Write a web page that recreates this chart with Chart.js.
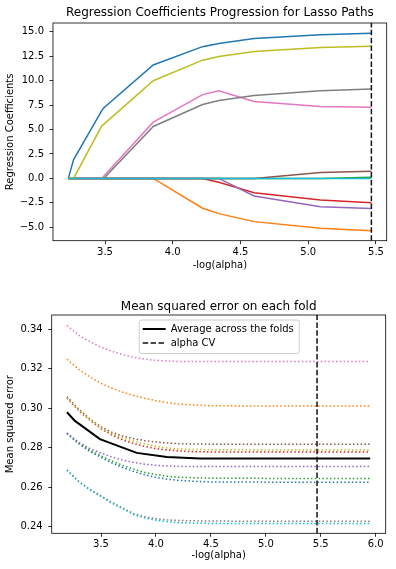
<!DOCTYPE html>
<html lang="en">
<head>
    <meta charset="UTF-8">
    <title>Lasso paths and CV error</title>

    <!-- Chart.js -->
    <script src="https://cdn.jsdelivr.net/npm/chart.js"></script>

    <style>
        body {
            margin: 0;
            background: #ffffff;
        }

        .panel {
            position: absolute;
            left: 0;
            width: 396px;
        }

        #top { top: 0; height: 285px; }
        #bottom { top: 285px; height: 284px; }
    </style>
</head>

<body>
    <div class="panel" id="top"><canvas id="pathChart" width="396" height="285"></canvas></div>
    <div class="panel" id="bottom"><canvas id="mseChart" width="396" height="284"></canvas></div>

    <script>
        // ---- lasso path (top panel) ----
        const pathAlphas = [3.229, 3.268, 3.475, 3.49, 3.856, 4.22, 4.34, 4.60, 5.09, 5.466];
        const coef0 = [0, 1.93, 6.9, 7.2, 11.6, 13.47, 13.8, 14.3, 14.68, 14.85];
        const coef1 = [0, 0, 0, 0, 0, -3.05, -3.6, -4.42, -5.1, -5.36];
        const coef2 = [0, 0, 0, 0, 0, 0, 0, 0, 0, 0.12];
        const coef3 = [0, 0, 0, 0, 0, 0, -0.4, -1.46, -2.2, -2.48];
        const coef4 = [0, 0, 0, 0, 0, 0, 0, -1.8, -2.89, -3.09];
        const coef5 = [0, 0, 0, 0, 0, 0, 0, 0, 0.61, 0.74];
        const coef6 = [0, 0, 0, 0.23, 5.75, 8.57, 8.97, 7.86, 7.35, 7.28];
        const coef7 = [0, 0, 0, 0, 5.31, 7.55, 7.96, 8.47, 8.97, 9.15];
        const coef8 = [0, 0, 5.35, 5.53, 9.99, 12.09, 12.46, 12.97, 13.38, 13.52];
        const coef9 = [0, 0, 0, 0, 0, 0, 0, 0, 0, 0];
        const coefPaths = [coef0, coef1, coef2, coef3, coef4, coef5, coef6, coef7, coef8, coef9];

        const alphaCV = 5.466;
        const pathXRange = [3.116, 5.579];
        const pathYRange = [-6.37, 15.89];
        const pathXTicks = [3.5, 4.0, 4.5, 5.0, 5.5];
        const pathYTicks = [-5, -2.5, 0, 2.5, 5, 7.5, 10, 12.5, 15];

        // ---- mse per fold (bottom panel) ----
        const foldAlphas = [3.19, 3.3, 3.4, 3.5, 3.6, 3.7, 3.8, 3.9, 4.0, 4.1, 4.2, 4.35, 4.5, 5.0, 5.5, 5.95];
        const fold0 = [0.2870, 0.2818, 0.2780, 0.2750, 0.2722, 0.2698, 0.2678, 0.2662, 0.2649, 0.2640, 0.2634, 0.2629, 0.2626, 0.2625, 0.2625, 0.2625];
        const fold1 = [0.3247, 0.3195, 0.3157, 0.3125, 0.3100, 0.3080, 0.3063, 0.3049, 0.3037, 0.3028, 0.3021, 0.3015, 0.3012, 0.3010, 0.3010, 0.3010];
        const fold2 = [0.2873, 0.2822, 0.2786, 0.2758, 0.2732, 0.2709, 0.2690, 0.2674, 0.2663, 0.2655, 0.2650, 0.2647, 0.2645, 0.2644, 0.2644, 0.2644];
        const fold3 = [0.3050, 0.2985, 0.2938, 0.2895, 0.2863, 0.2838, 0.2820, 0.2805, 0.2795, 0.2788, 0.2783, 0.2779, 0.2778, 0.2777, 0.2777, 0.2777];
        const fold4 = [0.2873, 0.2826, 0.2795, 0.2772, 0.2752, 0.2736, 0.2724, 0.2716, 0.2710, 0.2707, 0.2705, 0.2704, 0.2704, 0.2704, 0.2704, 0.2704];
        const fold5 = [0.3058, 0.2992, 0.2945, 0.2905, 0.2877, 0.2858, 0.2845, 0.2835, 0.2828, 0.2823, 0.2820, 0.2818, 0.2817, 0.2817, 0.2817, 0.2817];
        const fold6 = [0.3418, 0.3368, 0.3335, 0.3308, 0.3287, 0.3270, 0.3257, 0.3247, 0.3241, 0.3238, 0.3236, 0.3235, 0.3235, 0.3235, 0.3235, 0.3235];
        const fold7 = [0.2687, 0.2628, 0.2588, 0.2556, 0.2522, 0.2494, 0.2465, 0.2450, 0.2440, 0.2434, 0.2431, 0.2429, 0.2428, 0.2427, 0.2427, 0.2427];
        const fold8 = [0.3053, 0.2988, 0.2942, 0.2900, 0.2870, 0.2848, 0.2832, 0.2818, 0.2806, 0.2798, 0.2793, 0.2790, 0.2789, 0.2788, 0.2788, 0.2788];
        const fold9 = [0.2685, 0.2625, 0.2585, 0.2552, 0.2518, 0.2490, 0.2460, 0.2443, 0.2432, 0.2425, 0.2420, 0.2417, 0.2416, 0.2415, 0.2415, 0.2415];
        const foldMse = [fold0, fold1, fold2, fold3, fold4, fold5, fold6, fold7, fold8, fold9];

        const avgAlphas = [3.19, 3.263, 3.49, 3.825, 4.10, 4.4, 5.95];
        const avgMse = [0.2979, 0.2935, 0.2843, 0.2773, 0.2752, 0.2745, 0.2744];

        const mseXRange = [3.051, 6.091];
        const mseYRange = [0.2366, 0.3471];
        const mseXTicks = [3.5, 4.0, 4.5, 5.0, 5.5, 6.0];
        const mseYTicks = [0.24, 0.26, 0.28, 0.30, 0.32, 0.34];

        const legendLabels = ['Average across the folds', 'alpha CV'];

        // matplotlib tab10
        const tab10 = ['#1f77b4', '#ff7f0e', '#2ca02c', '#d62728', '#9467bd',
                       '#8c564b', '#e377c2', '#7f7f7f', '#bcbd22', '#17becf'];
        const FONT = 'DejaVu Sans';

        const toPoints = (xs, ys) => xs.map((x, i) => ({ x: x, y: ys[i] }));
        const fmt = digits => v => (v < 0 ? '\u2212' : '') + Math.abs(v).toFixed(digits);

        // black frame around the axes (all four spines)
        const frameBox = {
            id: 'frameBox',
            afterLayout(chart) {
                // centre the title over the axes, like matplotlib
                const t = chart.titleBlock, a = chart.chartArea;
                if (t) {
                    t.left = a.left;
                    t.right = a.right;
                    t.width = a.right - a.left;
                }
            },
            afterDraw(chart) {
                const { ctx, chartArea: a } = chart;
                ctx.save();
                ctx.strokeStyle = '#000';
                ctx.lineWidth = 0.8;
                ctx.strokeRect(a.left, a.top, a.right - a.left, a.bottom - a.top);
                ctx.restore();
            }
        };

        // move the legend inside the plot, centred at the top, and give it a frame
        const legendInside = {
            id: 'legendInside',
            afterLayout(chart) {
                const lg = chart.legend, a = chart.chartArea;
                if (!lg || !lg.legendHitBoxes || !lg.legendHitBoxes.length) return;
                const w = Math.max(...lg.legendHitBoxes.map(b => b.width)) + 9;
                lg.left = (a.left + a.right) / 2 - w / 2;
                lg.top = a.top + 5;
                lg.width = w;
                lg.right = lg.left + w;
                lg.bottom = a.bottom;
                lg.height = a.bottom - lg.top;
                lg._frame = { x: lg.left, y: lg.top - 0.5, w: w, h: 33.5 };
            },
            beforeDraw(chart) {
                const f = chart.legend && chart.legend._frame;
                if (!f) return;
                const ctx = chart.ctx;
                ctx.save();
                ctx.beginPath();
                ctx.roundRect(f.x + 0.5, f.y + 0.5, f.w, f.h, 2.5);
                ctx.fillStyle = 'rgba(255,255,255,0.8)';
                ctx.fill();
                ctx.strokeStyle = '#cccccc';
                ctx.lineWidth = 1;
                ctx.stroke();
                ctx.restore();
            }
        };

        function xScale(range, ticks, title, titlePad, height, tickPad) {
            return {
                type: 'linear',
                min: range[0],
                max: range[1],
                afterBuildTicks: s => { s.ticks = ticks.map(v => ({ value: v })); },
                afterFit: s => { s.height = height; },
                ticks: {
                    autoSkip: false, maxRotation: 0, padding: tickPad, color: '#000',
                    font: { family: FONT, size: 10 }, callback: fmt(1)
                },
                grid: { drawOnChartArea: false, tickLength: 3.5, tickWidth: 0.8, tickColor: '#000', color: '#000' },
                border: { display: false },
                title: {
                    display: true, text: title, color: '#000',
                    font: { family: FONT, size: 10 }, padding: { top: 0, bottom: titlePad }
                }
            };
        }

        function yScale(range, ticks, digits, title, width) {
            return {
                type: 'linear',
                min: range[0],
                max: range[1],
                afterBuildTicks: s => { s.ticks = ticks.map(v => ({ value: v })); },
                afterFit: s => { s.width = width; },
                ticks: {
                    autoSkip: false, padding: 5.5, color: '#000',
                    font: { family: FONT, size: 10 }, callback: fmt(digits)
                },
                grid: { drawOnChartArea: false, tickLength: 3.5, tickWidth: 0.8, tickColor: '#000', color: '#000' },
                border: { display: false },
                title: {
                    display: true, text: title, color: '#000',
                    font: { family: FONT, size: 10 }, padding: { top: 4.8, bottom: 0 }
                }
            };
        }

        Chart.defaults.font.family = FONT;

        // 📌 regression coefficients along the lasso path
        const pathSets = coefPaths.map((ys, i) => ({
            label: 'coef ' + i,
            data: toPoints(pathAlphas, ys),
            borderColor: tab10[i],
            borderWidth: 1.5,
            pointRadius: 0,
            fill: false,
            order: 10 - i
        }));
        pathSets.push({
            label: 'alpha CV',
            data: [{ x: alphaCV, y: pathYRange[0] }, { x: alphaCV, y: pathYRange[1] }],
            borderColor: '#111',
            borderDash: [5.5, 2.4],
            borderWidth: 1.5,
            pointRadius: 0,
            fill: false,
            order: 0
        });

        new Chart(document.getElementById('pathChart'), {
            type: 'line',
            data: { datasets: pathSets },
            options: {
                responsive: false,
                animation: false,
                devicePixelRatio: 1,
                layout: { padding: { left: 0, right: 9.3, top: 0, bottom: 0 } },
                plugins: {
                    legend: { display: false },
                    tooltip: { enabled: false },
                    title: {
                        display: true,
                        text: 'Regression Coefficients Progression for Lasso Paths',
                        color: '#000',
                        font: { family: FONT, size: 12, weight: 'normal' },
                        padding: { top: 6.1, bottom: 2.5 }
                    }
                },
                scales: {
                    x: xScale(pathXRange, pathXTicks, '-log(alpha)', 13.2, 44.3, 2.6),
                    y: yScale(pathYRange, pathYTicks, 1, 'Regression Coefficients', 53)
                }
            },
            plugins: [frameBox]
        });

        // 📌 mean squared error on each fold
        const mseSets = foldMse.map((ys, i) => ({
            label: '',
            data: toPoints(foldAlphas, ys),
            borderColor: tab10[i],
            borderWidth: 1.5,
            borderDash: [1.5, 2.3],
            pointRadius: 0,
            fill: false,
            order: 20 - i
        }));
        mseSets.push({
            label: legendLabels[0],
            data: toPoints(avgAlphas, avgMse),
            borderColor: '#000',
            borderWidth: 2,
            pointRadius: 0,
            fill: false,
            order: 1
        });
        mseSets.push({
            label: legendLabels[1],
            data: [{ x: alphaCV, y: mseYRange[0] }, { x: alphaCV, y: mseYRange[1] }],
            borderColor: '#111',
            borderDash: [5.5, 2.4],
            borderWidth: 1.5,
            pointRadius: 0,
            fill: false,
            order: 2
        });

        new Chart(document.getElementById('mseChart'), {
            type: 'line',
            data: { datasets: mseSets },
            options: {
                responsive: false,
                animation: false,
                devicePixelRatio: 1,
                layout: { padding: { left: 0, right: 10.3, top: 0, bottom: 0 } },
                plugins: {
                    tooltip: { enabled: false },
                    legend: {
                        position: 'chartArea',
                        align: 'start',
                        labels: {
                            // legend sample = the dataset's own line style
                            generateLabels: chart => chart.data.datasets.map((ds, i) => ({
                                text: ds.label,
                                fillStyle: 'rgba(0,0,0,0)',
                                strokeStyle: ds.borderColor,
                                lineWidth: ds.borderWidth,
                                lineDash: ds.borderDash || [],
                                pointStyle: 'line',
                                hidden: false,
                                datasetIndex: i
                            })),
                            filter: item => legendLabels.includes(item.text),
                            usePointStyle: true,
                            pointStyle: 'line',
                            pointStyleWidth: 23,
                            padding: 4,
                            color: '#000',
                            font: { family: FONT, size: 10 }
                        }
                    },
                    title: {
                        display: true,
                        text: 'Mean squared error on each fold',
                        color: '#000',
                        font: { family: FONT, size: 12, weight: 'normal' },
                        padding: { top: 14.5, bottom: 1.1 }
                    }
                },
                scales: {
                    x: xScale(mseXRange, mseXTicks, '-log(alpha)', 7.5, 35.7, 2),
                    y: yScale(mseYRange, mseYTicks, 2, 'Mean squared error', 51.7)
                }
            },
            plugins: [frameBox, legendInside]
        });
    </script>
</body>
</html>
